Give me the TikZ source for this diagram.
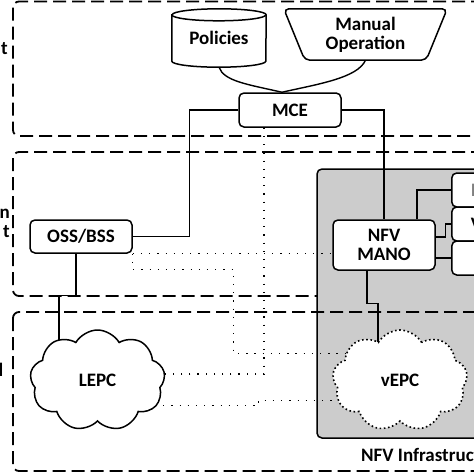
\documentclass[tikz,border=0pt]{standalone}
\usepackage{fontspec}
\setmainfont{Carlito}
\usetikzlibrary{shapes.symbols,calc}
\pgfdeclarelayer{frames}
\pgfdeclarelayer{infra}
\pgfdeclarelayer{frameb}
\pgfdeclarelayer{wires}
\pgfdeclarelayer{shapesl}
\pgfsetlayers{frames,infra,frameb,wires,shapesl,main}
\definecolor{infragray}{RGB}{204,204,204}
\definecolor{txtgray}{RGB}{128,128,128}
\tikzset{
 lbl/.style={font=\fontsize{19}{19}\selectfont\bfseries},
 box/.style={draw, line width=1.5pt, rounded corners=5pt, fill=white, lbl, align=center, inner sep=0pt},
 frame/.style={line width=1.8pt, dash pattern=on 13pt off 6pt, rounded corners=6pt},
 wire/.style={line width=1.4pt},
 dotw/.style={line width=1.3pt, dash pattern=on 1.3pt off 6.9pt},
 cloudn/.style={cloud, cloud puffs=9, cloud puff arc=120, aspect=1.0, minimum width=135pt, minimum height=101pt, fill=white, lbl, inner sep=0pt},
}
\begin{document}
\begin{tikzpicture}[x=1pt,y=-1pt]
\useasboundingbox (0,0) rectangle (474,474);
\path[clip] (0,0) rectangle (474,474);

% nodes
\node[box, minimum width=102pt, minimum height=34pt] (mce) at (290,110) {MCE};
\node[box, minimum width=102pt, minimum height=33pt] (oss) at (81,236.5) {OSS/BSS};
\node[box, minimum width=102pt, minimum height=50pt] (mano) at (384,245) {NFV\\MANO};
\node[box, anchor=west, minimum height=34pt, text width=80pt, align=left, inner xsep=19pt] (b1) at (451,190) {\color{txtgray}I};
\node[box, anchor=west, minimum height=34pt, text width=80pt, align=left, inner xsep=19pt] (b2) at (451,224) {V};
\node[box, anchor=west, minimum height=34pt, text width=80pt, align=left, inner xsep=19pt] (b3) at (451,258) {};
\node[lbl, minimum width=94pt, minimum height=58pt, inner sep=0pt] (pol) at (219,38) {\raisebox{-2pt}{Policies}};
\node[lbl, align=center, minimum width=163pt, minimum height=51pt, inner sep=0pt] (man) at (365.5,34.5) {Manual\\Operation};
\node[cloudn, draw, line width=1.5pt] (lepc) at (97.5,380.5) {LEPC};
\node[cloudn, draw, line width=1.6pt, dash pattern=on 1.6pt off 2.6pt] (vepc) at (400,380.5) {vEPC};
\node[lbl, anchor=west, inner sep=0pt] (infratxt) at (361,455) {NFV Infrastructure};
\node[lbl, anchor=east, inner sep=0pt] (lt) at (8,49) {t};
\node[lbl, anchor=east, align=right, inner sep=0pt] (lm) at (10,223) {n\\t};
\node[lbl, anchor=east, inner sep=0pt] (lb) at (3.5,370) {l};

\begin{pgfonlayer}{shapesl}
\draw[line width=1.5pt, fill=white] ([yshift=-6pt]pol.north west) -- ([yshift=6pt]pol.south west)
  arc[start angle=180, end angle=360, x radius=47pt, y radius=6pt]
  -- ([yshift=-6pt]pol.north east)
  arc[start angle=0, end angle=180, x radius=47pt, y radius=6pt] -- cycle;
\draw[line width=1.5pt] ([yshift=-6pt]pol.north west) arc[start angle=180, end angle=360, x radius=47pt, y radius=6pt];
\draw[line width=1.5pt, rounded corners=5pt, fill=white] (man.north west) -- (man.north east)
  -- ([xshift=-21pt]man.south east) -- ([xshift=21pt]man.south west) -- cycle;
\end{pgfonlayer}

\begin{pgfonlayer}{frames}
\draw[frame] (13,1.5) rectangle (520,136);
\draw[frame] (13,152) rectangle (520,296);
\end{pgfonlayer}
\begin{pgfonlayer}{infra}
\draw[line width=1.5pt, rounded corners=5pt, fill=infragray] (317,169) rectangle (530,438);
\end{pgfonlayer}
\begin{pgfonlayer}{frameb}
\draw[frame] (13,312) rectangle (520,471);
\end{pgfonlayer}

\begin{pgfonlayer}{wires}
% solid
\draw[wire] (mce.west) -- ++(-49,0) |- (oss.east);
\draw[wire] (mce.east) -| (mano.north);
\draw[wire] ([xshift=-5pt]oss.south) -- ++(0,42) -| ($(lepc.center)+(-38.5,0)$);
\draw[wire] ([xshift=-17pt]mano.south) -- ++(0,33) -| ($(vepc.center)+(-22,0)$);
\draw[wire] ([xshift=33pt]mano.north) |- (b1.west);
\draw[wire] ([yshift=8pt]mano.east) -- ++(10,0) |- (b2.west);
\draw[wire] (mano.east |- b3.west) -- (b3.west);
\draw[wire] (pol.south) .. controls +(5,14) and +(-35,-8) .. ([xshift=-8pt]mce.north);
\draw[wire] (man.south) .. controls +(-8,18) and +(35,-8) .. ([xshift=-8pt]mce.north);
% dotted
\draw[dotw] (oss.south east) -- (oss.south east -| mano.west);
\draw[dotw] (oss.south east) -- ++(0,16) -- ++(101,0) |- ($(vepc.center)+(0,-27)$);
\draw[dotw] ([xshift=-26pt]mce.south) |- ($(lepc.center)+(0,-6.5)$);
\draw[dotw] ($(lepc.center)+(0,25)$) -- ++(161,0) -- ++(0,-5) -- ($(vepc.center)+(0,20)$);
\end{pgfonlayer}
\end{tikzpicture}
\end{document}
